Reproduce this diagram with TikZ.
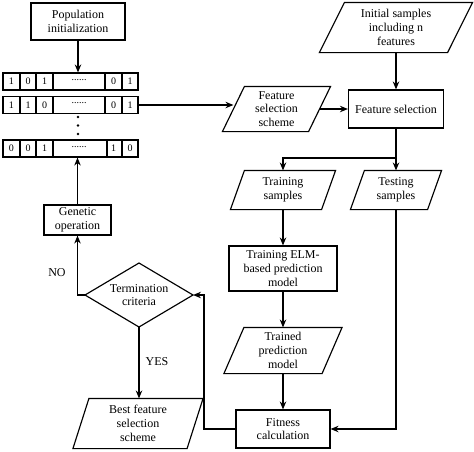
\documentclass[tikz,border=0pt]{standalone}
\usepackage{fontspec}
\setmainfont{Liberation Serif}
\usetikzlibrary{arrows.meta}
\newcommand\parabox[7]{%
  \node[txt, minimum width=#4, minimum height=#5] (#1) at (#2,#3) {#7};
  \draw ([xshift=-#6/2]#1.south west) -- ([xshift=#6/2]#1.north west) -- ([xshift=#6/2]#1.north east) -- ([xshift=-#6/2]#1.south east) -- cycle;}
\begin{document}
\begin{tikzpicture}[x=1pt,y=-1pt, line width=1.15pt,
  txt/.style={align=center, inner sep=0pt, font=\fontsize{12}{13.8}\selectfont},
  box/.style={draw, rectangle, align=center, inner sep=0pt, font=\fontsize{12}{13.8}\selectfont},
  row/.style={draw, rectangle, inner sep=0pt, minimum width=135, minimum height=17},
  bit/.style={inner sep=0pt, font=\fontsize{10}{11}\selectfont},
  arr/.style={-{Stealth[length=8pt,width=6.5pt]}}]
\useasboundingbox (0,0) rectangle (474,451);
% boxes
\node[box, minimum width=94, minimum height=37] (pop) at (78,21.5) {Population\\initialization};
\node[box, minimum width=95, minimum height=38] (fs) at (396,109) {Feature selection};
\node[box, minimum width=108, minimum height=45] (elm) at (283,268.5) {Training ELM-\\based prediction\\model};
\node[box, minimum width=94, minimum height=38] (fit) at (283,429) {Fitness\\calculation};
\node[box, minimum width=67, minimum height=30] (gen) at (77.5,220) {Genetic\\operation};
% parallelograms
\parabox{init}{396}{27.5}{127}{49}{25}{Initial samples\\including n\\features}
\parabox{scheme}{276.5}{109}{85}{44}{22}{Feature\\selection\\scheme}
\parabox{train}{283}{190}{90}{38}{14}{Training\\samples}
\parabox{test}{396}{190}{76}{38}{14}{Testing\\samples}
\parabox{trained}{283}{350.5}{97}{45}{20}{Trained\\prediction\\model}
\parabox{best}{138}{423.5}{113}{49}{16}{Best feature\\selection\\scheme}
% chromosome rows
\node[row] (row1) at (70.5,81.5) {};
\node[row] (row2) at (70.5,105) {};
\node[row] (row3) at (70.5,148.5) {};
\foreach \x in {20,36,53,105,122}{
  \draw (\x,73) -- (\x,90);
  \draw (\x,97) -- (\x,113);}
\foreach \x in {20,36,53,107,122}{
  \draw (\x,140) -- (\x,157);}
\foreach \y/\a/\b/\c/\d/\e [count=\i] in {81.5/1/0/1/0/1, 105/1/1/0/0/1, 148.5/0/0/1/1/0}{
  \node[bit] (b\i a) at (11.5,\y) {\a};
  \node[bit] (b\i b) at (28,\y) {\b};
  \node[bit] (b\i c) at (44.5,\y) {\c};
  \node[bit] (b\i d) at (79,\y-1.5) {......};
  \node[bit] (b\i e) at (113.5,\y) {\d};
  \node[bit] (b\i f) at (130,\y) {\e};}
\foreach \y in {117,125.5,134}{\fill (78,\y) circle (1.3);}
% diamond
\coordinate (termN) at (139,263);
\coordinate (termE) at (193,295);
\coordinate (termS) at (139,327);
\coordinate (termW) at (85,295);
\draw (termN) -- (termE) -- (termS) -- (termW) -- cycle;
\node[txt] (term) at (139,295) {Termination\\criteria};
% connectors
\draw[arr] (pop.south) -- (pop.south |- row1.north);
\draw[arr] (row2.east) -- (scheme.west |- row2.east);
\draw[arr] (scheme.east) -- (fs.west);
\draw[arr] (init.south) -- (fs.north);
\coordinate (br) at (396,158);
\draw[arr] (fs.south) -- (test.north);
\draw[arr] (br) -| (train.north);
\draw[arr] (train.south) -- (elm.north);
\draw[arr] (elm.south) -- (trained.north);
\draw[arr] (trained.south) -- (fit.north);
\draw[arr] (test.south) |- (fit.east);
\coordinate (fb) at (204,429);
\draw[arr] (fit.west) -- (fb) |- (termE);
\coordinate (nb) at (77.5,295);
\draw[arr] (termW) -- (nb) -- (gen.south);
\draw[arr] (gen.north) -- (gen.north |- row3.south);
\draw[arr] (termS) -- (termS |- best.north);
\node[txt] (no) at (57,273) {NO};
\node[txt] (yes) at (157,362) {YES};
\end{tikzpicture}
\end{document}
